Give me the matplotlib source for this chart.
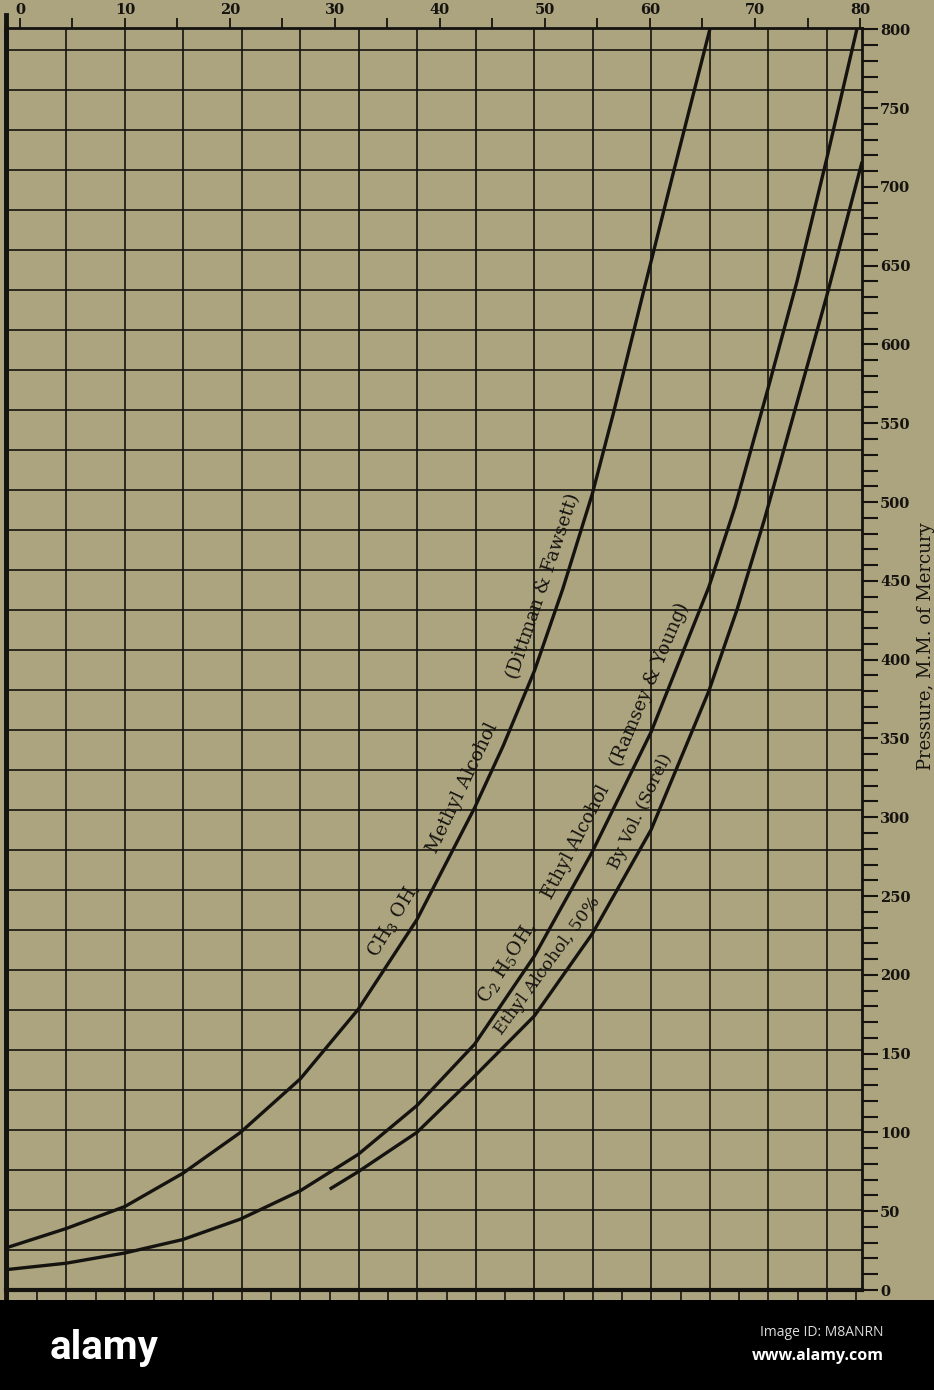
import numpy as np
import matplotlib.pyplot as plt
from matplotlib.ticker import MultipleLocator
from matplotlib.patches import Rectangle

plt.rcParams['font.family'] = ['DejaVu Serif']
plt.rcParams['mathtext.fontset'] = 'dejavuserif'

paper = '#aca37f'
ink = '#15130f'

# temperature (deg C) vs vapour pressure (mm of mercury)
methyl_t = [-1.2, 4.4, 10.0, 15.5, 21.0, 26.7, 32.2, 37.8, 43.3, 46.0, 49.0, 51.7, 54.5, 56.5, 59.4, 62.3, 65.7]
methyl_p = [27, 39, 53, 74, 100, 134, 178, 235, 306, 345, 393, 445, 505, 556, 634, 711, 800]

ethyl_t = [-1.2, 4.4, 10.0, 15.5, 21.0, 26.7, 32.2, 37.8, 43.3, 49.0, 54.5, 60.1, 65.6, 68.1, 71.2, 74.0, 76.8, 79.7]
ethyl_p = [13, 17, 23.5, 32, 45, 63, 86, 117, 156, 212, 278, 354, 446, 497, 571, 640, 717, 800]

sorel_t = [29.5, 32.2, 37.8, 42.9, 49.0, 54.5, 60.1, 65.6, 68.3, 70.9, 76.8, 80.2]
sorel_p = [64, 75, 100, 133, 174, 226, 292, 380, 432, 489, 630, 716]

temp_ticks = np.arange(0, 81, 10)
press_ticks = np.arange(0, 801, 50)

W, H = 934, 1390
fig = plt.figure(figsize=(W / 100, H / 100), dpi=100, facecolor=paper)


def box(x0, y0, x1, y1):
    # pixel box measured from the top-left corner -> figure rectangle
    return [x0 / W, 1 - y1 / H, (x1 - x0) / W, (y1 - y0) / H]


pos = box(6, 28, 862, 1290)

# the printed ruling of the paper has its own spacing, independent of the scales
g = fig.add_axes(pos, facecolor=paper)
g.set_xlim(-0.034, 14.6)
g.set_ylim(0, 31.55)
g.xaxis.set_major_locator(MultipleLocator(1))
g.xaxis.set_minor_locator(MultipleLocator(0.5))
g.yaxis.set_major_locator(MultipleLocator(1))
g.grid(True, which='major', color=ink, lw=1.2)
g.tick_params(axis='x', which='both', direction='out', length=8, width=1.2,
              color=ink, bottom=True, top=False, labelbottom=False)
g.tick_params(axis='y', which='both', left=False, right=False, labelleft=False)
for s in g.spines.values():
    s.set_visible(False)

# the chart itself
ax = fig.add_axes(pos, facecolor='none')
ax.set_xlim(-1.33, 80.19)
ax.set_ylim(0, 800.8)

for t, p in [(methyl_t, methyl_p), (ethyl_t, ethyl_p), (sorel_t, sorel_p)]:
    ax.plot(t, p, color=ink, lw=2.4, solid_joinstyle='round', solid_capstyle='butt')

ax.xaxis.tick_top()
ax.set_xticks(temp_ticks)
ax.xaxis.set_minor_locator(MultipleLocator(5))
ax.yaxis.tick_right()
ax.set_yticks(press_ticks)
ax.yaxis.set_minor_locator(MultipleLocator(10))
ax.tick_params(axis='x', which='both', direction='out', length=7, width=1.3,
               color=ink, pad=1, labelsize=10.5, labelcolor=ink)
ax.tick_params(axis='y', which='both', direction='out', length=11.5, width=1.5,
               color=ink, pad=1.5, labelsize=10.5, labelcolor=ink)
for lab in ax.get_xticklabels() + ax.get_yticklabels():
    lab.set_fontweight('bold')

ax.spines['left'].set_linewidth(3.5)
ax.spines['bottom'].set_linewidth(3)
ax.spines['top'].set_linewidth(2)
ax.spines['right'].set_linewidth(2)
for s in ax.spines.values():
    s.set_color(ink)
ax.plot([0, 0], [-0.008, 1.01], transform=ax.transAxes, clip_on=False, color=ink, lw=3.5)

ax.text(1.075, 0.51, 'Pressure, M.M. of Mercury', transform=ax.transAxes,
        rotation=90, ha='center', va='center', fontsize=13, color=ink)


def along(ts, ps, p0, p1, s, off=12.5, size=13.5):
    # write s parallel to the curve between pressures p0 and p1, on its upper-left side
    t0, t1 = np.interp([p0, p1], ps, ts)
    (x0, y0), (x1, y1) = ax.transData.transform([(t0, p0), (t1, p1)])
    a = np.arctan2(y1 - y0, x1 - x0)
    ax.annotate(s, xy=((t0 + t1) / 2, (p0 + p1) / 2),
                xytext=(-np.sin(a) * off, np.cos(a) * off), textcoords='offset points',
                rotation=np.degrees(a), rotation_mode='anchor',
                ha='center', va='center', fontsize=size, color=ink)


along(methyl_t, methyl_p, 204, 254, r'CH$_3$ OH,')
along(methyl_t, methyl_p, 270, 358, 'Methyl Alcohol')
along(methyl_t, methyl_p, 382, 504, '(Dittman & Fawsett)')
along(ethyl_t, ethyl_p, 168, 236, r'C$_2$ H$_5$OH,')
along(ethyl_t, ethyl_p, 242, 316, 'Ethyl Alcohol')
along(ethyl_t, ethyl_p, 328, 432, '(Ramsey & Young)')
along(sorel_t, sorel_p, 154, 248, 'Ethyl Alcohol, 50%', off=9, size=12.5)
along(sorel_t, sorel_p, 254, 346, 'By Vol. (Sorel)', off=9, size=12.5)

# black strip at the foot of the scan
fig.add_artist(Rectangle((0, 0), 1, 90 / H, transform=fig.transFigure,
                         facecolor='black', edgecolor='none', zorder=10))
fig.text(50 / W, 1 - 1348 / H, 'alamy', color='white', fontsize=29, fontweight='bold',
         family='Roboto', ha='left', va='center', zorder=11)
fig.text(883 / W, 1 - 1332 / H, 'Image ID: M8ANRN', color='#dddddd', fontsize=10,
         family='Open Sans', ha='right', va='center', zorder=11)
fig.text(884 / W, 1 - 1356 / H, 'www.alamy.com', color='white', fontsize=11.5,
         fontweight='bold', family='Open Sans', ha='right', va='center', zorder=11)

fig.savefig('out.png', dpi=100, facecolor=paper)
